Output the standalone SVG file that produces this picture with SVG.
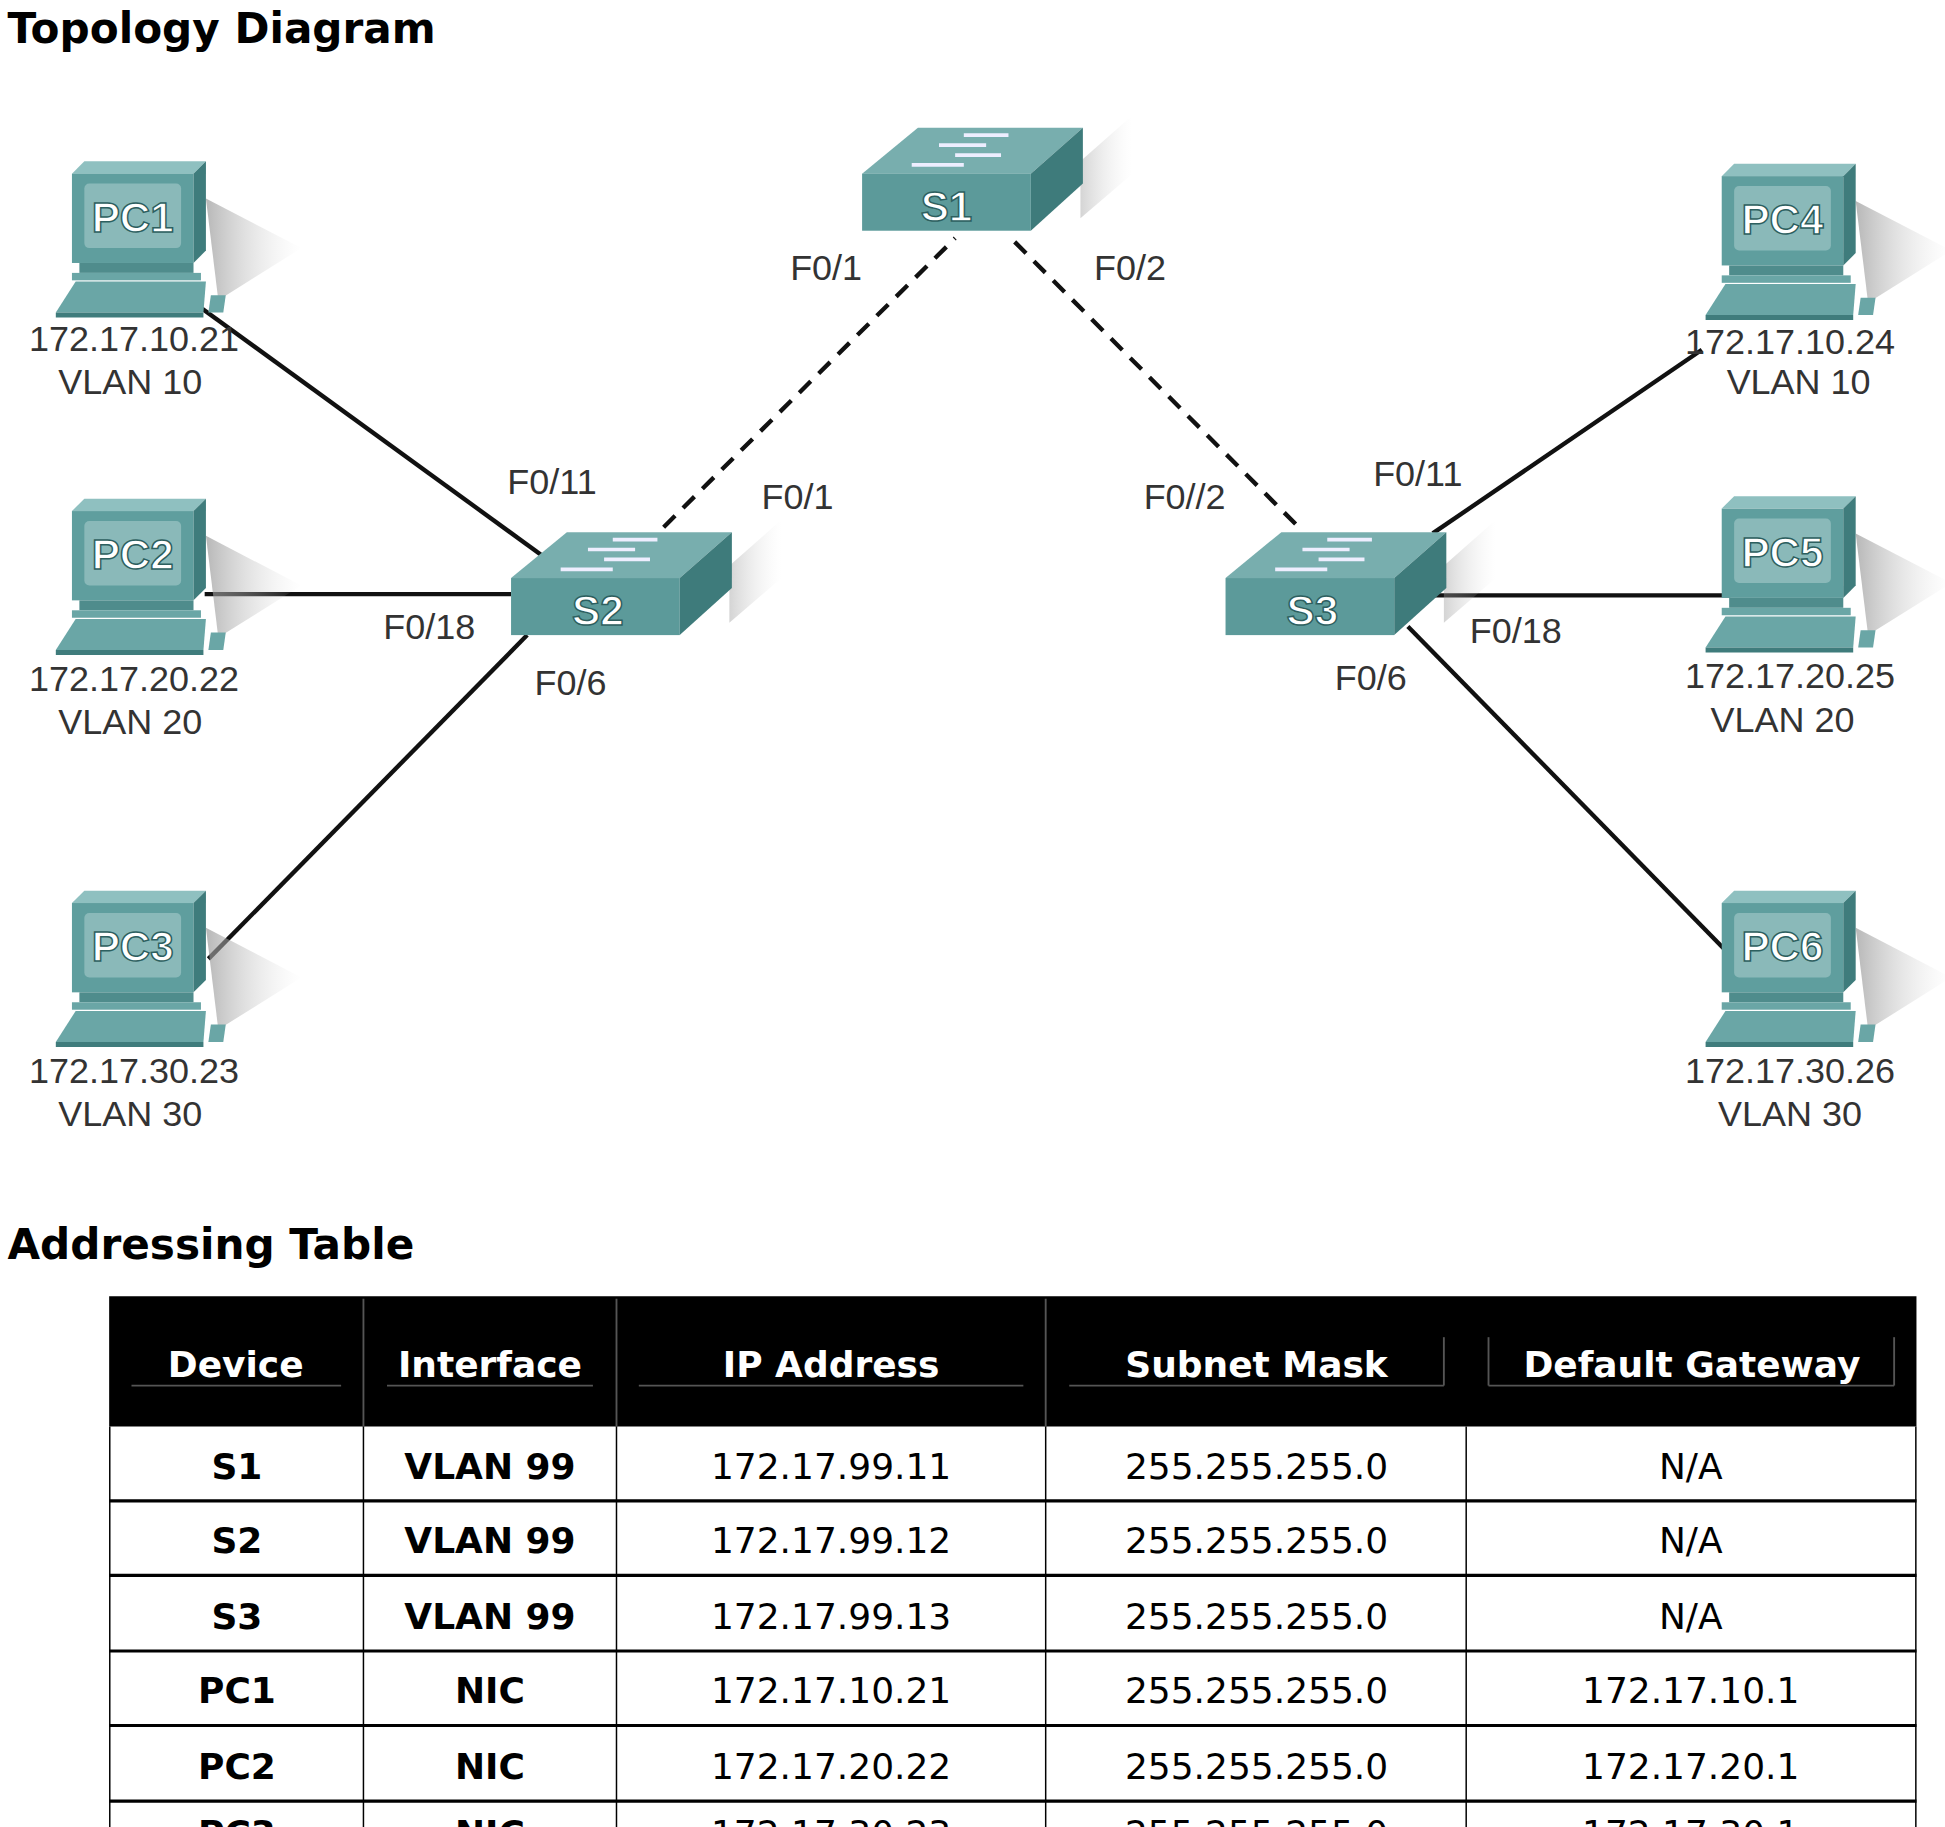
<svg xmlns="http://www.w3.org/2000/svg" width="1945" height="1827" viewBox="0 0 1945 1827">
<defs>
<linearGradient id="sh" x1="0" y1="0" x2="1" y2="0"><stop offset="0" stop-color="#999" stop-opacity="0.7"/><stop offset="1" stop-color="#ddd" stop-opacity="0"/></linearGradient>
<g id="pc">
<polygon points="108,30 185,70 118,112" fill="url(#sh)"/>
<polygon points="0,10 10,0 108,0 98,10" fill="#8fc0c0"/>
<rect x="0" y="10" width="98" height="72" fill="#5f9e9e"/>
<polygon points="98,10 108,0 108,72 98,82" fill="#3f7c7c"/>
<rect x="10" y="18" width="78" height="52" rx="4" fill="#8ab9b9"/>
<rect x="6" y="82" width="92" height="8" fill="#4f8c8c"/>
<rect x="0" y="90" width="104" height="6" fill="#6aa6a6"/>
<polygon points="-13,122 3,97 108,97 106,122" fill="#6aa6a6"/>
<polygon points="-13,122 106,122 106,126 -13,126" fill="#3f7c7c"/>
<polygon points="112,108 124,108 122,122 110,122" fill="#6aa6a6"/>
</g>
<g id="sw">
<polygon points="136,0 178,-37 178,10 136,46" fill="url(#sh)" transform="translate(40,-10)" opacity="0.6"/>
<polygon points="0,0 45,-37 178,-37 136,0" fill="#78aeae"/>
<rect x="0" y="0" width="136" height="46" fill="#5c9a9a"/>
<polygon points="136,0 178,-37 178,8 136,46" fill="#3e7b7b"/>
<g stroke="#eef" stroke-width="3">
<line x1="82" y1="-31" x2="118" y2="-31"/><line x1="62" y1="-23" x2="100" y2="-23"/>
<line x1="75" y1="-15" x2="112" y2="-15"/><line x1="40" y1="-7" x2="82" y2="-7"/>
</g>
</g>
</defs>
<style>
.t{font-family:"DejaVu Sans",sans-serif;font-weight:bold;font-size:34px;fill:#000}
.lb{font-family:"Liberation Sans",Arial,sans-serif;font-size:29px;fill:#333;text-anchor:middle}
.nm{font-family:"Liberation Sans",Arial,sans-serif;font-weight:bold;font-size:34px;fill:#fff;stroke:#2d5f5f;stroke-width:1.2;text-anchor:middle}
.h{font-family:"DejaVu Sans",sans-serif;font-weight:bold;font-size:29px;fill:#fff;text-anchor:middle}
.b{font-family:"DejaVu Sans",sans-serif;font-weight:bold;font-size:29px;fill:#000;text-anchor:middle}
.r{font-family:"DejaVu Sans",sans-serif;font-size:29px;fill:#000;text-anchor:middle}
.ln{stroke:#111;stroke-width:3.5;fill:none}
.ds{stroke:#111;stroke-width:3.5;fill:none;stroke-dasharray:13,9}
</style>
<rect width="1945" height="1827" fill="#fff"/>
<g transform="scale(1.24043)">
<text class="t" x="6" y="35">Topology Diagram</text>
<g id="connectors">
<line class="ln" x1="155" y1="243" x2="440" y2="450"/>
<line class="ln" x1="165" y1="479" x2="412" y2="479"/>
<line class="ln" x1="168" y1="773" x2="425" y2="512"/>
<line class="ds" x1="535" y1="425" x2="770" y2="192"/>
<line class="ds" x1="818" y1="195" x2="1050" y2="428"/>
<line class="ln" x1="1155" y1="430" x2="1372" y2="282"/>
<line class="ln" x1="1155" y1="480" x2="1395" y2="480"/>
<line class="ln" x1="1135" y1="505" x2="1390" y2="765"/>
</g>
<g id="PC1" transform="translate(58,130)"><use href="#pc"/><text class="nm" x="49" y="57">PC1</text></g>
<g id="PC2" transform="translate(58,402)"><use href="#pc"/><text class="nm" x="49" y="57">PC2</text></g>
<g id="PC3" transform="translate(58,718)"><use href="#pc"/><text class="nm" x="49" y="57">PC3</text></g>
<g id="PC4" transform="translate(1388,132)"><use href="#pc"/><text class="nm" x="49" y="57">PC4</text></g>
<g id="PC5" transform="translate(1388,400)"><use href="#pc"/><text class="nm" x="49" y="57">PC5</text></g>
<g id="PC6" transform="translate(1388,718)"><use href="#pc"/><text class="nm" x="49" y="57">PC6</text></g>
<g id="S1" transform="translate(695,140)"><use href="#sw"/><text class="nm" x="68" y="38">S1</text></g>
<g id="S2" transform="translate(412,466)"><use href="#sw"/><text class="nm" x="70" y="38">S2</text></g>
<g id="S3" transform="translate(988,466)"><use href="#sw"/><text class="nm" x="70" y="38">S3</text></g>
<g id="labels">
<text class="lb" x="108" y="283">172.17.10.21</text><text class="lb" x="105" y="318">VLAN 10</text>
<text class="lb" x="108" y="557">172.17.20.22</text><text class="lb" x="105" y="592">VLAN 20</text>
<text class="lb" x="108" y="873">172.17.30.23</text><text class="lb" x="105" y="908">VLAN 30</text>
<text class="lb" x="1443" y="285">172.17.10.24</text><text class="lb" x="1450" y="318">VLAN 10</text>
<text class="lb" x="1443" y="555">172.17.20.25</text><text class="lb" x="1437" y="590">VLAN 20</text>
<text class="lb" x="1443" y="873">172.17.30.26</text><text class="lb" x="1443" y="908">VLAN 30</text>
<text class="lb" x="666" y="226">F0/1</text><text class="lb" x="911" y="226">F0/2</text>
<text class="lb" x="445" y="398">F0/11</text><text class="lb" x="643" y="410">F0/1</text>
<text class="lb" x="346" y="515">F0/18</text><text class="lb" x="460" y="560">F0/6</text>
<text class="lb" x="955" y="410">F0//2</text><text class="lb" x="1143" y="392">F0/11</text>
<text class="lb" x="1222" y="518">F0/18</text><text class="lb" x="1105" y="556">F0/6</text>
</g>
<text class="t" x="6" y="1015">Addressing Table</text>
<g id="table">
<rect x="88" y="1045" width="1457" height="105" fill="#000"/>
<g stroke="#555" stroke-width="1.5">
<line x1="106" y1="1117" x2="275" y2="1117"/><line x1="312" y1="1117" x2="478" y2="1117"/>
<line x1="515" y1="1117" x2="825" y2="1117"/><line x1="862" y1="1117" x2="1164" y2="1117"/>
<line x1="1164" y1="1078" x2="1164" y2="1117"/><line x1="1200" y1="1117" x2="1527" y2="1117"/>
<line x1="1200" y1="1078" x2="1200" y2="1117"/><line x1="1527" y1="1078" x2="1527" y2="1117"/>
<line x1="293" y1="1047" x2="293" y2="1150"/><line x1="497" y1="1047" x2="497" y2="1150"/><line x1="843" y1="1047" x2="843" y2="1150"/>
</g>
<text class="h" x="190" y="1110">Device</text><text class="h" x="395" y="1110">Interface</text>
<text class="h" x="670" y="1110">IP Address</text><text class="h" x="1013" y="1110">Subnet Mask</text>
<text class="h" x="1364" y="1110">Default Gateway</text>
<g stroke="#000" stroke-width="1.2">
<line x1="88.5" y1="1150" x2="88.5" y2="1473"/><line x1="293" y1="1150" x2="293" y2="1473"/>
<line x1="497" y1="1150" x2="497" y2="1473"/><line x1="843" y1="1150" x2="843" y2="1473"/>
<line x1="1182" y1="1150" x2="1182" y2="1473"/><line x1="1544.5" y1="1150" x2="1544.5" y2="1473"/>
</g>
<g stroke="#000" stroke-width="2.5">
<line x1="88" y1="1210" x2="1545" y2="1210"/><line x1="88" y1="1270" x2="1545" y2="1270"/>
<line x1="88" y1="1331" x2="1545" y2="1331"/><line x1="88" y1="1391" x2="1545" y2="1391"/>
<line x1="88" y1="1452" x2="1545" y2="1452"/>
</g>
<text class="b" x="191" y="1192">S1</text><text class="b" x="395" y="1192">VLAN 99</text><text class="r" x="670" y="1192">172.17.99.11</text><text class="r" x="1013" y="1192">255.255.255.0</text><text class="r" x="1363" y="1192">N/A</text>
<text class="b" x="191" y="1252">S2</text><text class="b" x="395" y="1252">VLAN 99</text><text class="r" x="670" y="1252">172.17.99.12</text><text class="r" x="1013" y="1252">255.255.255.0</text><text class="r" x="1363" y="1252">N/A</text>
<text class="b" x="191" y="1313">S3</text><text class="b" x="395" y="1313">VLAN 99</text><text class="r" x="670" y="1313">172.17.99.13</text><text class="r" x="1013" y="1313">255.255.255.0</text><text class="r" x="1363" y="1313">N/A</text>
<text class="b" x="191" y="1373">PC1</text><text class="b" x="395" y="1373">NIC</text><text class="r" x="670" y="1373">172.17.10.21</text><text class="r" x="1013" y="1373">255.255.255.0</text><text class="r" x="1363" y="1373">172.17.10.1</text>
<text class="b" x="191" y="1434">PC2</text><text class="b" x="395" y="1434">NIC</text><text class="r" x="670" y="1434">172.17.20.22</text><text class="r" x="1013" y="1434">255.255.255.0</text><text class="r" x="1363" y="1434">172.17.20.1</text>
<text class="b" x="191" y="1488">PC3</text><text class="b" x="395" y="1488">NIC</text><text class="r" x="670" y="1488">172.17.30.23</text><text class="r" x="1013" y="1488">255.255.255.0</text><text class="r" x="1363" y="1488">172.17.30.1</text>
</g>
</g>
</svg>
